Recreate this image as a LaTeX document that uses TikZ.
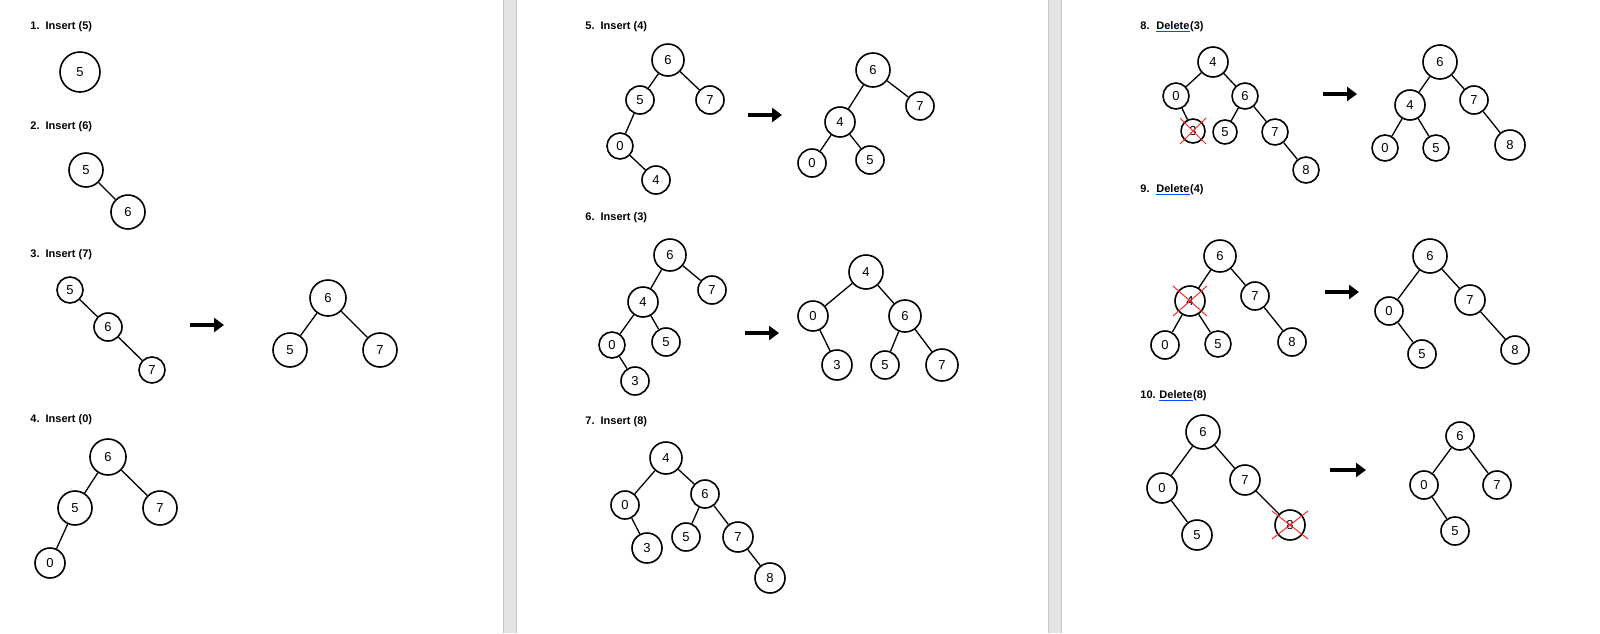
\documentclass[tikz,border=0pt]{standalone}
\usepackage{fontspec}
\setmainfont{Liberation Sans}
\usetikzlibrary{arrows.meta}
\newcommand{\blueul}[1]{\tikz[baseline=(w.base)]{\node[inner sep=0pt] (w) {#1};\draw[blue!70!cyan,line width=0.3pt] ([yshift=-0.8pt]w.base west)--([yshift=-0.8pt]w.base east);}}
\begin{document}
\begin{tikzpicture}[x=0.5pt,y=-0.5pt,
  c/.style={circle,draw,line width=0.8pt,inner sep=0pt,minimum size=#1pt,font=\fontsize{6.5}{7}\selectfont},
  cx/.style={c=#1},
  redx/.style={red!85,line width=0.5pt},
  lbl/.style={anchor=west,font=\bfseries\fontsize{5.5}{6}\selectfont,inner sep=0pt},
  bigarrow/.style={-{Triangle[length=5pt,width=7pt]},line width=2.2pt},
  e/.style={line width=0.65pt}]
\useasboundingbox (0,0) rectangle (1600,633);
\fill[white] (0,0) rectangle (1600,633);
\fill[gray!22] (503,0) rectangle (516,633);
\fill[gray!22] (1048,0) rectangle (1061,633);
\draw[gray!45,line width=0.4pt] (503,0)--(503,633) (516,0)--(516,633) (1048,0)--(1048,633) (1061,0)--(1061,633);
% Panel 1
\node[lbl] (l1) at (30,27) {1.\ \ Insert (5)};
\node[c=20] (a1) at (80,72) {5};
\node[lbl] (l2) at (30,127) {2.\ \ Insert (6)};
\node[c=17] (b1) at (86,170) {5};
\node[c=17] (b2) at (128,212) {6};
\draw[e] (b1)--(b2);
\node[lbl] (l3) at (30,255) {3.\ \ Insert (7)};
\node[c=13] (c1) at (70,290) {5};
\node[c=14] (c2) at (108,327) {6};
\node[c=13] (c3) at (152,370) {7};
\draw[e] (c1)--(c2) (c2)--(c3);
\coordinate (ca1) at (190,325); \coordinate (ca2) at (224,325);
\draw[bigarrow] (ca1)--(ca2);
\node[c=18] (d1) at (328,298) {6};
\node[c=17] (d2) at (290,350) {5};
\node[c=17] (d3) at (380,350) {7};
\draw[e] (d1)--(d2) (d1)--(d3);
\node[lbl] (l4) at (30,420) {4.\ \ Insert (0)};
\node[c=18] (f1) at (108,457) {6};
\node[c=17] (f2) at (75,508) {5};
\node[c=17] (f3) at (160,508) {7};
\node[c=15] (f4) at (50,563) {0};
\draw[e] (f1)--(f2) (f1)--(f3) (f2)--(f4);
% Panel 2
\node[lbl] (l5) at (585,27) {5.\ \ Insert (4)};
\node[c=16] (g1) at (668,60) {6};
\node[c=14] (g2) at (640,100) {5};
\node[c=14] (g3) at (710,100) {7};
\node[c=13] (g4) at (620,146) {0};
\node[c=14] (g5) at (656,180) {4};
\draw[e] (g1)--(g2) (g1)--(g3) (g2)--(g4) (g4)--(g5);
\coordinate (ga1) at (748,115); \coordinate (ga2) at (782,115);
\draw[bigarrow] (ga1)--(ga2);
\node[c=17] (h1) at (873,70) {6};
\node[c=15] (h2) at (840,122) {4};
\node[c=14] (h3) at (920,106) {7};
\node[c=14] (h4) at (812,163) {0};
\node[c=14] (h5) at (870,160) {5};
\draw[e] (h1)--(h2) (h1)--(h3) (h2)--(h4) (h2)--(h5);
\node[lbl] (l6) at (585,218) {6.\ \ Insert (3)};
\node[c=16] (i1) at (670,255) {6};
\node[c=14] (i2) at (712,290) {7};
\node[c=15] (i3) at (643,302) {4};
\node[c=13] (i4) at (612,345) {0};
\node[c=14] (i5) at (666,342) {5};
\node[c=14] (i6) at (635,381) {3};
\draw[e] (i1)--(i2) (i1)--(i3) (i3)--(i4) (i3)--(i5) (i4)--(i6);
\coordinate (ia1) at (745,333); \coordinate (ia2) at (779,333);
\draw[bigarrow] (ia1)--(ia2);
\node[c=17] (j1) at (866,272) {4};
\node[c=15] (j2) at (813,316) {0};
\node[c=16] (j3) at (905,316) {6};
\node[c=15] (j4) at (837,365) {3};
\node[c=14] (j5) at (885,365) {5};
\node[c=16] (j6) at (942,365) {7};
\draw[e] (j1)--(j2) (j1)--(j3) (j2)--(j4) (j3)--(j5) (j3)--(j6);
\node[lbl] (l7) at (585,422) {7.\ \ Insert (8)};
\node[c=16] (k1) at (666,458) {4};
\node[c=14] (k2) at (625,505) {0};
\node[c=14] (k3) at (705,494) {6};
\node[c=15] (k4) at (647,548) {3};
\node[c=14] (k5) at (686,537) {5};
\node[c=15] (k6) at (738,537) {7};
\node[c=15] (k7) at (770,578) {8};
\draw[e] (k1)--(k2) (k1)--(k3) (k2)--(k4) (k3)--(k5) (k3)--(k6) (k6)--(k7);
% Panel 3
\node[lbl] (l8) at (1140,27) {8.\ \ \blueul{Delete}(3)};
\node[c=15] (m1) at (1213,62) {4};
\node[c=13] (m2) at (1176,96) {0};
\node[c=13] (m3) at (1245,96) {6};
\node[cx=12] (m4) at (1193,131) {3};
\node[c=12] (m5) at (1225,132) {5};
\node[c=13] (m6) at (1275,132) {7};
\node[c=13] (m7) at (1306,170) {8};
\draw[e] (m1)--(m2) (m1)--(m3) (m2)--(m4) (m3)--(m5) (m3)--(m6) (m6)--(m7);
\draw[redx] ([shift={(-5,-5)}]m4.center)++(-8,-8)--++(26,26) ([shift={(13,-13)}]m4.center)--++(-26,26);
\coordinate (ma1) at (1323,94); \coordinate (ma2) at (1357,94);
\draw[bigarrow] (ma1)--(ma2);
\node[c=17] (n1) at (1440,62) {6};
\node[c=15] (n2) at (1410,105) {4};
\node[c=14] (n3) at (1474,100) {7};
\node[c=13] (n4) at (1385,148) {0};
\node[c=13] (n5) at (1436,148) {5};
\node[c=15] (n6) at (1510,145) {8};
\draw[e] (n1)--(n2) (n1)--(n3) (n2)--(n4) (n2)--(n5) (n3)--(n6);
\node[lbl] (l9) at (1140,190) {9.\ \ \blueul{Delete}(4)};
\node[c=16] (p1) at (1220,256) {6};
\node[cx=15] (p2) at (1190,301) {4};
\node[c=14] (p3) at (1255,296) {7};
\node[c=14] (p4) at (1165,345) {0};
\node[c=13] (p5) at (1218,344) {5};
\node[c=14] (p6) at (1292,342) {8};
\draw[e] (p1)--(p2) (p1)--(p3) (p2)--(p4) (p2)--(p5) (p3)--(p6);
\draw[redx] ([shift={(-17,-15)}]p2.center)--++(34,30) ([shift={(17,-15)}]p2.center)--++(-34,30);
\coordinate (pa1) at (1325,292); \coordinate (pa2) at (1359,292);
\draw[bigarrow] (pa1)--(pa2);
\node[c=17] (q1) at (1430,256) {6};
\node[c=14] (q2) at (1389,311) {0};
\node[c=15] (q3) at (1470,300) {7};
\node[c=14] (q4) at (1422,354) {5};
\node[c=14] (q5) at (1515,350) {8};
\draw[e] (q1)--(q2) (q1)--(q3) (q2)--(q4) (q3)--(q5);
\node[lbl] (l10) at (1140,396) {10.\ \blueul{Delete}(8)};
\node[c=17] (r1) at (1203,432) {6};
\node[c=15] (r2) at (1162,488) {0};
\node[c=15] (r3) at (1245,480) {7};
\node[c=15] (r4) at (1197,535) {5};
\node[cx=15] (r5) at (1290,525) {8};
\draw[e] (r1)--(r2) (r1)--(r3) (r2)--(r4) (r3)--(r5);
\draw[redx] ([shift={(-18,-14)}]r5.center)--++(36,28) ([shift={(18,-14)}]r5.center)--++(-36,28);
\coordinate (ra1) at (1330,470); \coordinate (ra2) at (1366,470);
\draw[bigarrow] (ra1)--(ra2);
\node[c=14] (s1) at (1460,436) {6};
\node[c=14] (s2) at (1424,485) {0};
\node[c=14] (s3) at (1497,485) {7};
\node[c=14] (s4) at (1455,531) {5};
\draw[e] (s1)--(s2) (s1)--(s3) (s2)--(s4);
\end{tikzpicture}
\end{document}
